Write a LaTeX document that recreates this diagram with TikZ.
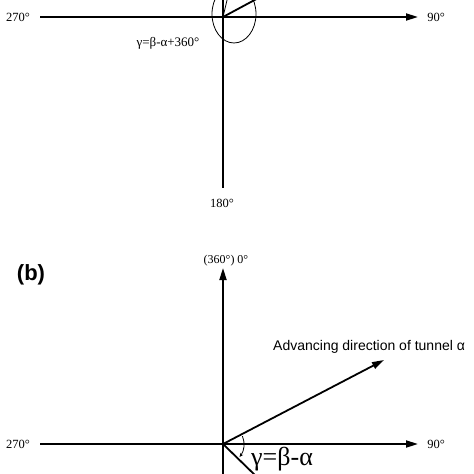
\documentclass[tikz,border=0pt]{standalone}
\usepackage{fontspec}
\setmainfont{Liberation Serif}
\newfontfamily\sansf{Liberation Sans}
\usetikzlibrary{arrows.meta}
\tikzset{
  axis/.style={line width=1.8pt},
  axisarrow/.style={line width=1.8pt,-{Triangle[length=12pt,width=7pt]}},
  deglabel/.style={font=\fontsize{12.5}{14}\selectfont,inner sep=0pt},
  thinline/.style={line width=0.8pt},
}
\begin{document}
\begin{tikzpicture}[x=1pt,y=-1pt]
\useasboundingbox (0,0) rectangle (474,474);
\clip (0,0) rectangle (474,474);
% ---------- panel (a) ----------
\coordinate (Oa) at (223,17);
\coordinate (La) at (40,17);
\coordinate (Ra) at (418,17);
\coordinate (Ta) at (223,-6);
\coordinate (Ba) at (223,188);
\coordinate (Va) at (262,-4);
\coordinate (Wa) at (228,-4);
\draw[axis] (La) -- (Oa);
\draw[axisarrow] (Oa) -- (Ra);
\draw[axis] (Ta) -- (Ba);
\draw[axis] (Oa) -- (Va);
\draw[thinline] (Oa) -- (Wa);
\draw[thinline] (234,14) ellipse [x radius=22, y radius=29];
\node[deglabel] (a270) at (18,17) {270°};
\node[deglabel] (a90) at (436,17) {90°};
\node[deglabel] (a180) at (222,203) {180°};
\node[deglabel,font=\fontsize{13}{15}\selectfont] (agam) at (168,43) {γ=β-α+360°};
% ---------- panel (b) ----------
\node[font=\sansf\bfseries\fontsize{22}{24}\selectfont,inner sep=0pt] (blab) at (31,275) {(b)};
\coordinate (Ob) at (223,444);
\coordinate (Lb) at (40,444);
\coordinate (Rb) at (418,444);
\coordinate (Tb) at (223,268);
\coordinate (Bb) at (223,480);
\coordinate (Vb) at (384,360);
\coordinate (Db) at (259,479);
\draw[axis] (Lb) -- (Ob);
\draw[axisarrow] (Ob) -- (Rb);
\draw[axisarrow] (Bb) -- (Tb);
\draw[axisarrow] (Ob) -- (Vb);
\draw[axis] (Ob) -- (Db);
\draw[thinline,-{Stealth[length=4pt,width=3.5pt]}] (Ob) ++(-22:21) arc[start angle=-22, end angle=38, radius=21];
\node[deglabel] (b270) at (18,444) {270°};
\node[deglabel] (b90) at (436,444) {90°};
\node[deglabel,font=\fontsize{12}{14}\selectfont] (b0) at (226,261) {(360°) 0°};
\node[inner sep=0pt,anchor=west,font=\sansf\fontsize{14}{16}\selectfont] (badv) at (273,347) {Advancing direction of tunnel α};
\node[inner sep=0pt,anchor=west,font=\fontsize{26}{28}\selectfont] (bgam) at (251,459) {γ=β-α};
\end{tikzpicture}
\end{document}
